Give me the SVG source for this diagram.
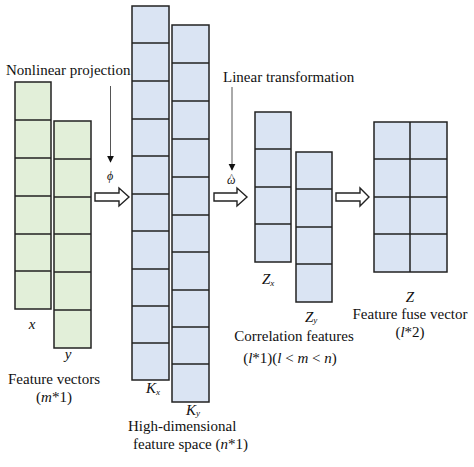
<svg xmlns="http://www.w3.org/2000/svg" width="474" height="467" viewBox="0 0 474 467">
<defs>
<style>
.g{fill:#e2efd9;stroke:#222;stroke-width:1.5}
.b{fill:#dae4f3;stroke:#222;stroke-width:1.5}
.ln{stroke:#222;stroke-width:1.5;fill:none}
.t{font-family:"Liberation Serif","Times New Roman",serif;font-size:15px;fill:#111}
.i{font-style:italic}
.s{font-size:9px}
.m{font-size:12px}
.ha{fill:#fff;stroke:#222;stroke-width:1.4}
.va{stroke:#555;stroke-width:1}
</style>
<marker id="ah" viewBox="0 0 10 10" refX="9" refY="5" markerWidth="7" markerHeight="8" orient="auto" markerUnits="userSpaceOnUse">
<path d="M0,0 L10,5 L0,10 Z" fill="#111"/>
</marker>
</defs>
<rect width="474" height="467" fill="#fff"/>

<g id="vec-x">
<rect class="g" x="15" y="82" width="36" height="227"/>
<path class="ln" d="M15,120H51M15,158H51M15,196H51M15,234H51M15,271H51"/>
<text class="t i" x="32" y="329" text-anchor="middle">x</text>
</g>
<g id="vec-y">
<rect class="g" x="54" y="121" width="37" height="227"/>
<path class="ln" d="M54,159H91M54,197H91M54,234H91M54,272H91M54,310H91"/>
<text class="t i" x="68" y="359" text-anchor="middle">y</text>
</g>
<g id="feature-vectors-label">
<text class="t" x="54" y="384" text-anchor="middle">Feature vectors</text>
<text class="t" x="54" y="402" text-anchor="middle">(<tspan class="i">m</tspan>*1)</text>
</g>

<g id="vec-Kx">
<rect class="b" x="132" y="6" width="37" height="374"/>
<path class="ln" d="M132,43H169M132,81H169M132,119H169M132,156H169M132,194H169M132,231H169M132,269H169M132,306H169M132,343H169"/>
<text class="t i" x="146" y="393">K<tspan class="s" dy="2">x</tspan></text>
</g>
<g id="vec-Ky">
<rect class="b" x="172" y="25" width="37" height="377"/>
<path class="ln" d="M172,63H209M172,101H209M172,139H209M172,177H209M172,215H209M172,252H209M172,290H209M172,327H209M172,364H209"/>
<text class="t i" x="186" y="415">K<tspan class="s" dy="1">y</tspan></text>
</g>
<g id="high-dim-label">
<text class="t" x="128" y="431">High-dimensional</text>
<text class="t" x="133" y="449">feature space (<tspan class="i">n</tspan>*1)</text>
</g>

<g id="vec-Zx">
<rect class="b" x="255" y="112" width="36" height="150"/>
<path class="ln" d="M255,149H291M255,187H291M255,224H291"/>
<text class="t i" x="262" y="284">Z<tspan class="s" dy="2">x</tspan></text>
</g>
<g id="vec-Zy">
<rect class="b" x="296" y="152" width="36" height="150"/>
<path class="ln" d="M296,189H332M296,227H332M296,264H332"/>
<text class="t i" x="305" y="322">Z<tspan class="s" dy="1">y</tspan></text>
</g>
<g id="correlation-label">
<text class="t" x="294" y="341" text-anchor="middle">Correlation features</text>
<text class="t" x="290" y="363" text-anchor="middle">(<tspan class="i">l</tspan>*1)(<tspan class="i">l</tspan> &lt; <tspan class="i">m</tspan> &lt; <tspan class="i">n</tspan>)</text>
</g>

<g id="vec-Z">
<rect class="b" x="374" y="122" width="73" height="150"/>
<path class="ln" d="M374,159H447M374,197H447M374,234H447M410,122V272"/>
<text class="t i" x="410" y="302" text-anchor="middle">Z</text>
</g>
<g id="fuse-label">
<text class="t" x="410" y="319" text-anchor="middle">Feature fuse vector</text>
<text class="t" x="410" y="337" text-anchor="middle">(<tspan class="i">l</tspan>*2)</text>
</g>

<g id="nonlinear-label">
<text class="t" x="6" y="75">Nonlinear projection</text>
</g>
<g id="linear-label">
<text class="t" x="223" y="82">Linear transformation</text>
</g>

<g id="connectors">
<line class="va" x1="110.5" y1="86" x2="110.5" y2="162" marker-end="url(#ah)"/>
<line class="va" x1="232" y1="87" x2="232" y2="170" marker-end="url(#ah)"/>
<path class="ha" d="M95,193H119V188L129,197L119,206V201H95Z"/>
<path class="ha" d="M214,193H237V188L247,197L237,206V201H214Z"/>
<path class="ha" d="M336,193H360V188L369,197L360,206V201H336Z"/>
</g>
<g id="op-labels">
<text class="t i m" x="110" y="180" text-anchor="middle">ϕ</text>
<text class="t i m" x="227" y="184">ω<tspan class="s" style="font-style:normal" dx="-6" dy="-4">^</tspan></text>
</g>
</svg>
